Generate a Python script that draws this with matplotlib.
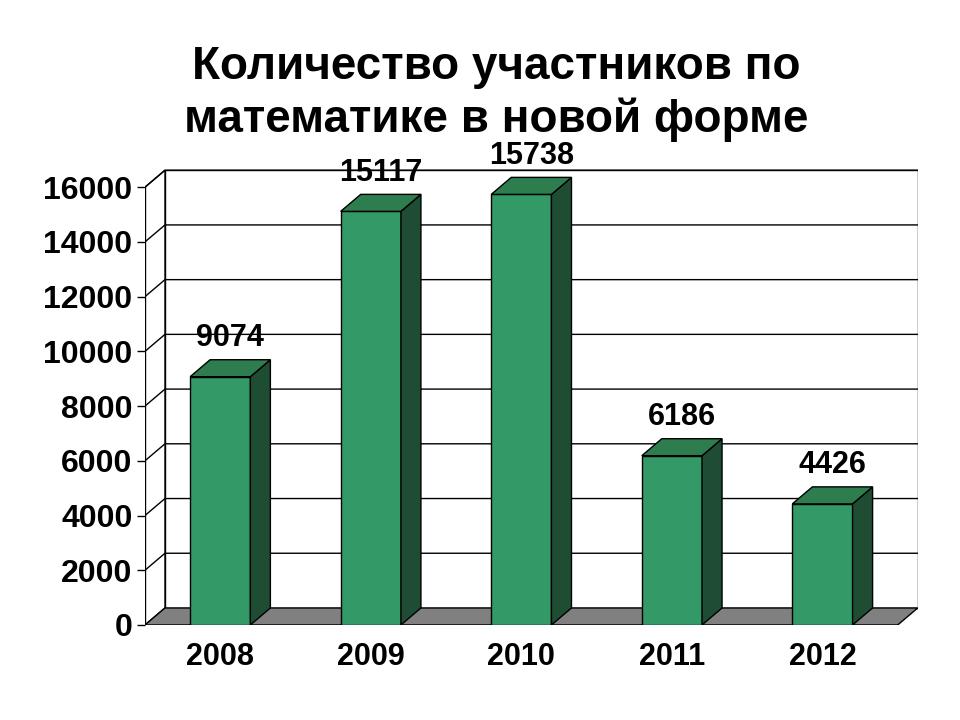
import matplotlib.pyplot as plt
from matplotlib.patches import Polygon

plt.rcParams['font.family'] = ['Liberation Sans', 'DejaVu Sans']
plt.rcParams['font.weight'] = 'bold'

years = ['2008', '2009', '2010', '2011', '2012']
counts = [9074, 15117, 15738, 6186, 4426]
yticks = [0, 2000, 4000, 6000, 8000, 10000, 12000, 14000, 16000]

fig = plt.figure(figsize=(9.6, 7.2), dpi=100)
ax = fig.add_axes([0.151, 0.132, 0.805, 0.646])
dx, dy = 0.133, 621
ymax = 16000
ax.set_xlim(0, len(years) + dx)
ax.set_ylim(0, 17000)
for s in ax.spines.values():
    s.set_visible(False)

# walls and floor
ax.add_patch(Polygon([(dx, dy), (len(years) + dx, dy), (len(years) + dx, ymax + dy), (dx, ymax + dy)],
                     closed=True, fc='white', ec='black', lw=1, zorder=0))
ax.add_patch(Polygon([(0, 0), (dx, dy), (dx, ymax + dy), (0, ymax)], closed=True, fc='white', ec='black', lw=1, zorder=0))
for t in yticks[1:]:
    ax.plot([0, dx, len(years) + dx], [t, t + dy, t + dy], color='black', lw=1, zorder=1)
ax.add_patch(Polygon([(0, 0), (len(years), 0), (len(years) + dx, dy), (dx, dy)], closed=True,
                     fc='#808080', ec='black', lw=1, zorder=2))

w = 0.4
for i, v in enumerate(counts):
    x0, x1 = i + 0.5 - w / 2, i + 0.5 + w / 2
    ax.add_patch(Polygon([(x0, 0), (x1, 0), (x1, v), (x0, v)], closed=True, fc='#339966', ec='black', lw=1, zorder=3))
    ax.add_patch(Polygon([(x1, 0), (x1 + dx, dy), (x1 + dx, v + dy), (x1, v)], closed=True, fc='#1f4d33', ec='black', lw=1, zorder=3))
    ax.add_patch(Polygon([(x0, v), (x1, v), (x1 + dx, v + dy), (x0 + dx, v + dy)], closed=True, fc='#2e7d4f', ec='black', lw=1, zorder=3))
    ax.text(i + 0.5 + dx / 2, v + dy + 250, str(v), ha='center', va='bottom', fontsize=22, fontweight='bold', zorder=4)

ax.plot([0, 0], [0, ymax], color='black', lw=1)
ax.set_yticks(yticks)
ax.set_yticklabels([str(t) for t in yticks], fontsize=23, fontweight='bold')
ax.tick_params(axis='y', length=6, width=1, direction='out', pad=3)
ax.set_xticks([i + 0.5 for i in range(len(years))])
ax.set_xticklabels(years, fontsize=22, fontweight='bold')
ax.tick_params(axis='x', length=0, pad=12)

fig.text(0.517, 0.87, 'Количество участников по\nматематике в новой форме', ha='center', va='center',
         fontsize=33, fontweight='bold', linespacing=1.25)
fig.savefig('out.png', dpi=100)
